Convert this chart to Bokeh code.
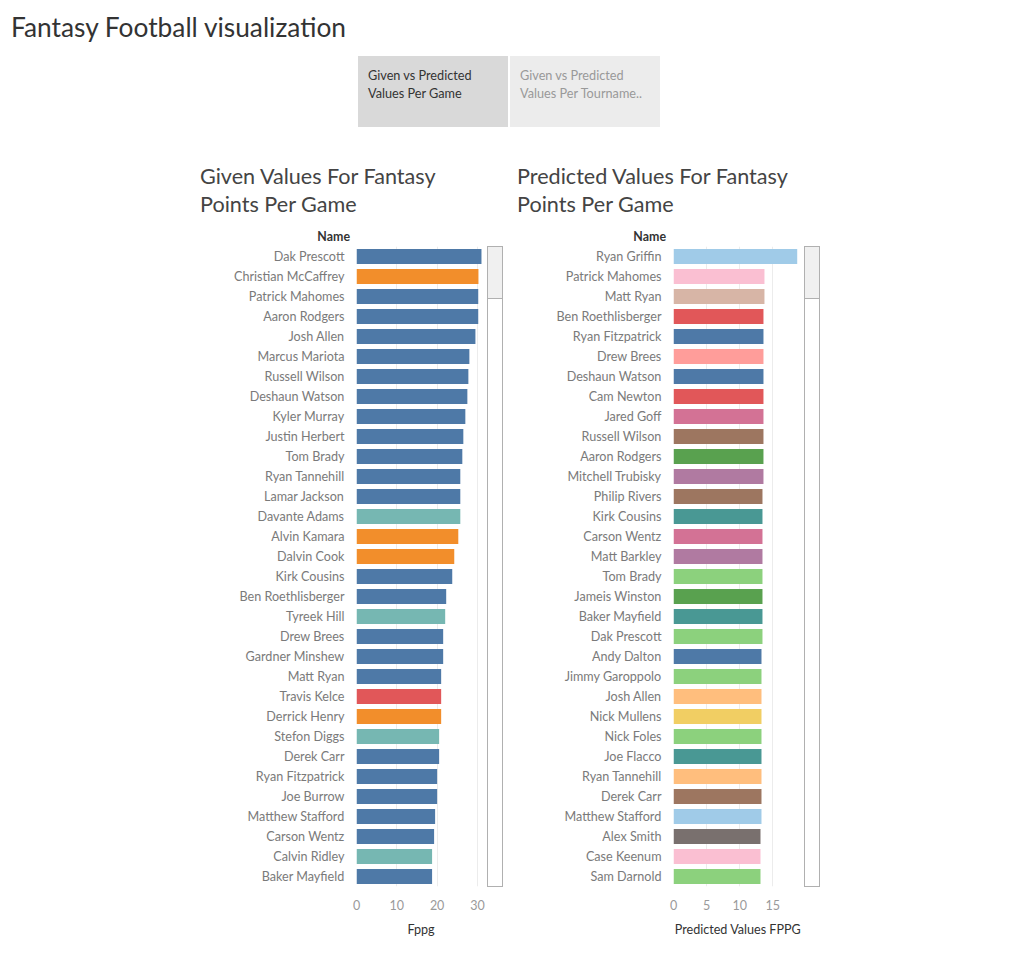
from bokeh.plotting import figure
from bokeh.models import Div, FactorRange, Range1d, FixedTicker, ColumnDataSource
from bokeh.layouts import column, row
from bokeh.embed import file_html
from bokeh.resources import INLINE

FONT = "Lato"

# ---------------- data ----------------
given_names = [
    "Dak Prescott", "Christian McCaffrey", "Patrick Mahomes", "Aaron Rodgers",
    "Josh Allen", "Marcus Mariota", "Russell Wilson", "Deshaun Watson",
    "Kyler Murray", "Justin Herbert", "Tom Brady", "Ryan Tannehill",
    "Lamar Jackson", "Davante Adams", "Alvin Kamara", "Dalvin Cook",
    "Kirk Cousins", "Ben Roethlisberger", "Tyreek Hill", "Drew Brees",
    "Gardner Minshew", "Matt Ryan", "Travis Kelce", "Derrick Henry",
    "Stefon Diggs", "Derek Carr", "Ryan Fitzpatrick", "Joe Burrow",
    "Matthew Stafford", "Carson Wentz", "Calvin Ridley", "Baker Mayfield",
]
given_fppg = [
    31.0, 30.25, 30.2, 30.2,
    29.5, 28.0, 27.75, 27.5,
    27.0, 26.5, 26.25, 25.75,
    25.75, 25.75, 25.25, 24.25,
    23.75, 22.25, 22.0, 21.5,
    21.5, 21.0, 21.0, 21.0,
    20.5, 20.5, 20.0, 20.0,
    19.5, 19.25, 18.75, 18.75,
]
given_position = [
    "QB", "RB", "QB", "QB",
    "QB", "QB", "QB", "QB",
    "QB", "QB", "QB", "QB",
    "QB", "WR", "RB", "RB",
    "QB", "QB", "WR", "QB",
    "QB", "QB", "TE", "RB",
    "WR", "QB", "QB", "QB",
    "QB", "QB", "WR", "QB",
]

pred_names = [
    "Ryan Griffin", "Patrick Mahomes", "Matt Ryan", "Ben Roethlisberger",
    "Ryan Fitzpatrick", "Drew Brees", "Deshaun Watson", "Cam Newton",
    "Jared Goff", "Russell Wilson", "Aaron Rodgers", "Mitchell Trubisky",
    "Philip Rivers", "Kirk Cousins", "Carson Wentz", "Matt Barkley",
    "Tom Brady", "Jameis Winston", "Baker Mayfield", "Dak Prescott",
    "Andy Dalton", "Jimmy Garoppolo", "Josh Allen", "Nick Mullens",
    "Nick Foles", "Joe Flacco", "Ryan Tannehill", "Derek Carr",
    "Matthew Stafford", "Alex Smith", "Case Keenum", "Sam Darnold",
]
pred_fppg = [
    18.7, 13.75, 13.75, 13.6,
    13.6, 13.6, 13.6, 13.6,
    13.6, 13.6, 13.6, 13.6,
    13.45, 13.45, 13.45, 13.45,
    13.45, 13.45, 13.45, 13.45,
    13.3, 13.3, 13.3, 13.3,
    13.3, 13.3, 13.3, 13.3,
    13.3, 13.15, 13.15, 13.15,
]

given_ticks = [0, 10, 20, 30]
pred_ticks = [0, 5, 10, 15]

# ---------------- styles ----------------
position_colors = {"QB": "#4e79a7", "RB": "#f28e2b", "WR": "#76b7b2", "TE": "#e15759"}
pred_colors = [
    "#a0cbe8", "#fabfd2", "#d7b5a6", "#e15759",
    "#4e79a7", "#ff9d9a", "#4e79a7", "#e15759",
    "#d37295", "#9d7660", "#59a14f", "#b07aa1",
    "#9d7660", "#499894", "#d37295", "#b07aa1",
    "#8cd17d", "#59a14f", "#499894", "#8cd17d",
    "#4e79a7", "#8cd17d", "#ffbe7d", "#f1ce63",
    "#8cd17d", "#499894", "#ffbe7d", "#9d7660",
    "#a0cbe8", "#79706e", "#fabfd2", "#8cd17d",
]


def bar_chart(names, vals, colors, xmax, ticks, xlabel, border_left):
    src = ColumnDataSource(dict(name=names, val=vals, color=colors))
    p = figure(
        y_range=FactorRange(factors=list(reversed(names)), range_padding=0),
        x_range=Range1d(0, xmax),
        frame_width=129, frame_height=640,
        min_border_left=border_left, min_border_right=2,
        min_border_top=0, min_border_bottom=58,
        output_backend="svg", toolbar_location=None,
    )
    p.hbar(y="name", right="val", left=0, height=0.75, color="color",
           line_color=None, source=src)
    p.outline_line_color = None
    p.background_fill_color = "white"
    p.border_fill_color = "white"
    p.ygrid.grid_line_color = None
    p.xgrid.grid_line_color = "#ececec"
    p.xgrid.ticker = FixedTicker(ticks=ticks)
    p.xaxis.ticker = FixedTicker(ticks=ticks)

    p.yaxis.axis_line_color = None
    p.yaxis.major_tick_line_color = None
    p.yaxis.minor_tick_line_color = None
    p.yaxis.major_label_standoff = 6
    p.yaxis.major_label_text_font = FONT
    p.yaxis.major_label_text_font_size = "12.6px"
    p.yaxis.major_label_text_color = "#7a7a7a"

    p.xaxis.axis_line_color = None
    p.xaxis.major_tick_line_color = None
    p.xaxis.minor_tick_line_color = None
    p.xaxis.major_label_standoff = 7
    p.xaxis.major_label_text_font = FONT
    p.xaxis.major_label_text_font_size = "12.5px"
    p.xaxis.major_label_text_color = "#9a9a9a"
    p.xaxis.axis_label = xlabel
    p.xaxis.axis_label_standoff = 9
    p.xaxis.axis_label_text_font = FONT
    p.xaxis.axis_label_text_font_size = "12.6px"
    p.xaxis.axis_label_text_font_style = "normal"
    p.xaxis.axis_label_text_color = "#333333"
    return p


def header_div(title, title_left, name_right, width):
    html = (
        f'<div style="position:relative;width:{width}px;height:96px;font-family:{FONT};">'
        f'<div style="position:absolute;left:{title_left}px;top:12px;font-size:21.6px;'
        f'line-height:28px;color:#444;white-space:nowrap;">{title}</div>'
        f'<div style="position:absolute;right:{width - name_right}px;top:80px;font-size:12.4px;'
        f'line-height:14px;color:#333;font-weight:bold;">Name</div>'
        '</div>'
    )
    return Div(text=html, width=width, height=96, margin=0)


def scroll_div(width):
    html = (
        '<div style="position:relative;width:%dpx;height:641px;">'
        '<div style="position:absolute;left:0;top:0;width:16px;height:641px;box-sizing:border-box;'
        'border:1px solid #b0b0b0;background:#ffffff;">'
        '<div style="width:14px;height:52px;box-sizing:border-box;background:#f0f0f0;'
        'border-bottom:1px solid #b0b0b0;"></div>'
        '</div></div>' % width
    )
    return Div(text=html, width=width, height=641, margin=0)


left_colors = [position_colors[pos] for pos in given_position]
p1 = bar_chart(given_names, given_fppg, left_colors, 32.0, given_ticks, "Fppg", 348)
p2 = bar_chart(pred_names, pred_fppg, pred_colors, 19.5, pred_ticks,
               "Predicted Values FPPG", 163)

title_div = Div(
    text=f'<div style="position:relative;width:990px;height:40px;font-family:{FONT};">'
         '<div style="position:absolute;left:3px;top:5px;font-size:26.3px;line-height:28px;'
         'color:#333;white-space:nowrap;">Fantasy Football visualization</div></div>',
    width=990, height=40, margin=0)

tab_style = ('position:absolute;top:8px;width:150px;height:71px;box-sizing:border-box;'
             'padding:10px 0 0 10px;white-space:nowrap;overflow:hidden;')
tabs_div = Div(
    text=f'<div style="position:relative;width:990px;height:102px;font-family:{FONT};font-size:12.7px;line-height:18px;">'
         f'<div style="{tab_style}left:350px;background:#d9d9d9;color:#333;">Given vs Predicted<br>Values Per Game</div>'
         f'<div style="{tab_style}left:502px;background:#ececec;color:#999;">Given vs Predicted<br>Values Per Tourname..</div>'
         '</div>',
    width=990, height=102, margin=0)

left_group = column(
    header_div("Given Values For Fantasy<br>Points Per Game", 192, 342, 502),
    row(p1, scroll_div(23), spacing=0),
    spacing=0,
)
right_group = column(
    header_div("Predicted Values For Fantasy<br>Points Per Game", 7, 156, 320),
    row(p2, scroll_div(26), spacing=0),
    spacing=0,
)

layout = column(title_div, tabs_div, row(left_group, right_group, spacing=0),
                spacing=0, margin=(8, 8, 8, 8))

open("out.html", "w").write(file_html(layout, INLINE))
